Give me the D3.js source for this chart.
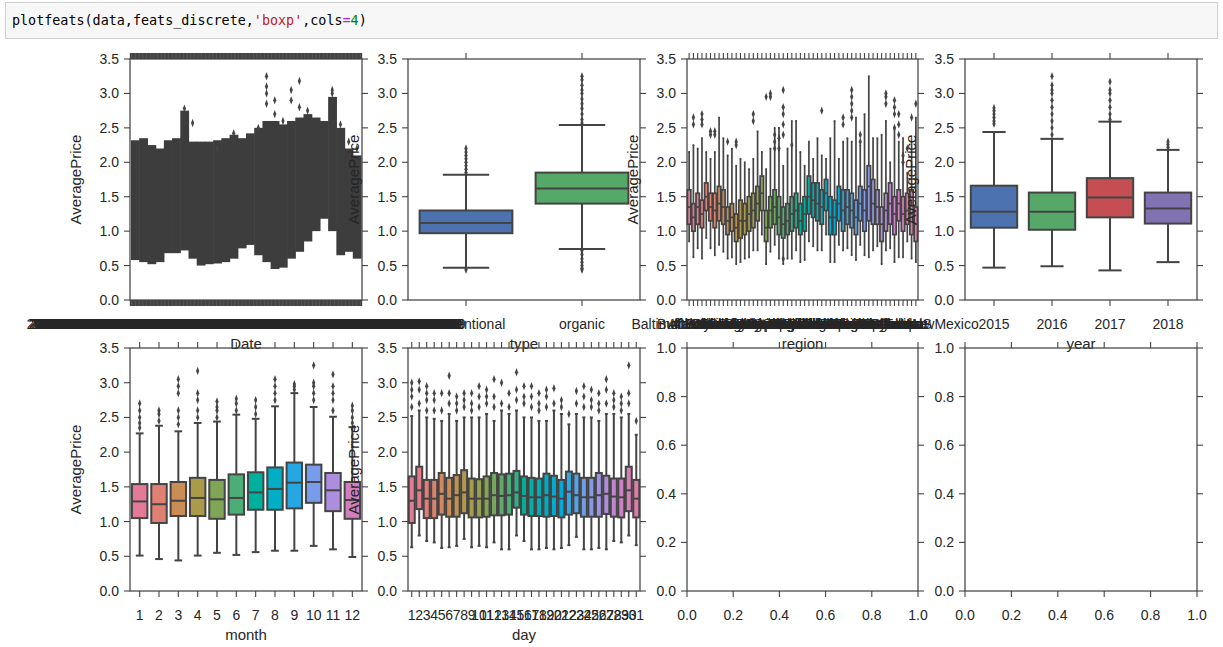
<!DOCTYPE html>
<html><head><meta charset="utf-8">
<script src="https://cdn.jsdelivr.net/npm/d3@7"></script>
<style>
body{margin:0;background:#fff;font-family:"Liberation Sans",Arial,sans-serif;}
</style></head><body>
<svg id="main" width="1223" height="647"></svg>
<script>
// ---- data ----
const typeCats = ['conventional','organic'];
const typeStats = [[0.47,0.97,1.12,1.30,1.82],[0.74,1.40,1.62,1.85,2.54]]; // lo,q1,med,q3,hi
const typeOut = [[1.85,1.9,1.95,2.0,2.05,2.1,2.15,2.2,0.44],[2.57,2.62,2.7,2.78,2.85,2.92,3.0,3.05,3.12,3.2,3.25,0.72,0.66,0.6,0.55,0.5,0.46,0.44]];

const yearCats = ['2015','2016','2017','2018'];
const yearStats = [[0.47,1.05,1.28,1.66,2.44],[0.49,1.02,1.28,1.56,2.34],[0.43,1.20,1.49,1.77,2.59],[0.55,1.11,1.33,1.56,2.18]];
const yearOut = [[2.56,2.6,2.65,2.7,2.75,2.79],[2.4,2.5,2.6,2.7,2.8,2.9,3.0,3.05,3.12,3.25],[2.62,2.7,2.8,2.9,3.0,3.05,3.17],[2.22,2.26,2.3]];

const monthCats = ['1','2','3','4','5','6','7','8','9','10','11','12'];
const monthStats = [[0.51,1.05,1.29,1.54,2.27],[0.46,0.98,1.25,1.54,2.38],[0.44,1.08,1.30,1.57,2.30],[0.51,1.08,1.34,1.63,2.42],
  [0.55,1.04,1.32,1.60,2.44],[0.52,1.10,1.34,1.68,2.54],[0.56,1.17,1.42,1.71,2.48],[0.58,1.17,1.47,1.78,2.66],
  [0.58,1.19,1.56,1.85,2.85],[0.65,1.27,1.57,1.82,2.65],[0.60,1.15,1.45,1.70,2.51],[0.49,1.04,1.31,1.57,2.36]];
const monthOut = [[2.35,2.42,2.5,2.6,2.7],[2.45,2.55,2.6],[2.4,2.5,2.6,2.85,2.95,3.05],[2.5,2.6,2.75,2.85,3.17],[2.5,2.6,2.65,2.73],
  [2.6,2.7,2.77],[2.55,2.65,2.75],[2.75,2.85,2.95,3.05],[2.9,2.95,2.98],[2.75,2.85,2.95,3.0,3.25],[2.6,2.75,2.85,2.95,3.12],[2.42,2.5,2.6,2.67]];

const dayCats = d3.range(1,32).map(String);
const dayQ1 = [0.98,1.18,1.05,1.05,1.1,1.07,1.07,1.12,1.06,1.06,1.07,1.09,1.09,1.1,1.2,1.1,1.08,1.08,1.07,1.08,1.06,1.1,1.12,1.07,1.07,1.07,1.11,1.07,1.06,1.15,1.06];
const dayMed = [1.3,1.45,1.33,1.33,1.4,1.33,1.38,1.42,1.33,1.33,1.33,1.38,1.37,1.38,1.42,1.37,1.35,1.35,1.38,1.36,1.33,1.43,1.38,1.35,1.35,1.38,1.4,1.36,1.35,1.45,1.33];
const dayQ3 = [1.65,1.79,1.6,1.6,1.7,1.63,1.67,1.74,1.62,1.61,1.65,1.7,1.68,1.69,1.73,1.65,1.63,1.62,1.69,1.66,1.6,1.72,1.69,1.63,1.63,1.7,1.66,1.62,1.62,1.79,1.6];
const dayHi = [2.52,2.6,2.5,2.48,2.45,2.55,2.45,2.5,2.5,2.5,2.55,2.45,2.6,2.55,2.6,2.5,2.5,2.45,2.45,2.6,2.55,2.4,2.55,2.5,2.5,2.45,2.55,2.55,2.5,2.55,2.25];
const dayLo = [0.63,0.8,0.72,0.7,0.62,0.63,0.65,0.75,0.63,0.65,0.63,0.7,0.6,0.6,0.8,0.72,0.6,0.6,0.62,0.6,0.62,0.66,0.78,0.6,0.6,0.62,0.6,0.72,0.7,0.8,0.66];
const dayOut = [[2.65,2.8,2.9,3.0],[2.7,2.9,3.02],[2.6,2.75,2.85,2.95],[2.6,2.75,2.85],[2.6,2.85],[2.7,2.85,3.1],[2.6,2.7,2.8],[2.65,2.75,2.85],
  [2.6,2.7,2.85],[2.65,2.8,2.95],[2.7,2.8,2.9],[2.65,2.8,3.05],[2.7,3.0],[2.65,2.85],[2.75,2.9,3.15],[2.7,2.8,2.95],[2.65,2.8,2.95],
  [2.6,2.7,2.85],[2.65,2.8,2.9],[2.7,2.92],[2.65,2.75],[2.55],[2.7,2.88],[2.65,2.8,2.95],[2.65,2.75,2.9],[2.6,2.7,2.85],[2.7,2.9,3.05],
  [2.65,2.75,2.85],[2.6,2.7,2.8],[2.7,2.85,3.25],[2.45]];

const regionCats = ['Albany','Atlanta','BaltimoreWashington','Boise','Boston','BuffaloRochester','California','Charlotte','Chicago',
  'CincinnatiDayton','Columbus','DallasFtWorth','Denver','Detroit','GrandRapids','GreatLakes','HarrisburgScranton','HartfordSpringfield',
  'Houston','Indianapolis','Jacksonville','LasVegas','LosAngeles','Louisville','MiamiFtLauderdale','Midsouth','Nashville','NewOrleansMobile',
  'NewYork','Northeast','NorthernNewEngland','Orlando','Philadelphia','PhoenixTucson','Pittsburgh','Plains','Portland','RaleighGreensboro',
  'RichmondNorfolk','Roanoke','Sacramento','SanDiego','SanFrancisco','Seattle','SouthCarolina','SouthCentral','Southeast','Spokane',
  'StLouis','Syracuse','Tampa','TotalUS','West','WestTexNewMexico'];
const regionLo = [0.85,0.62,0.75,0.6,0.9,0.75,0.65,0.8,0.7,0.6,0.62,0.52,0.55,0.6,0.62,0.72,0.72,0.95,0.52,0.7,0.8,0.6,0.52,0.6,0.6,0.72,0.55,0.58,0.85,0.78,0.72,0.72,0.95,0.55,0.55,0.8,0.72,0.75,0.65,0.58,0.8,0.65,0.62,0.72,0.78,0.52,0.72,0.75,0.55,0.62,0.62,0.85,0.6,0.55];
const regionQ1 = [1.1,1.0,1.1,1.05,1.3,1.15,1.05,1.15,1.1,0.95,1.0,0.85,0.9,0.95,1.0,1.05,1.15,1.3,0.85,1.05,1.1,0.95,0.9,0.95,1.0,1.05,0.95,1.0,1.25,1.2,1.15,1.1,1.3,0.95,0.95,1.15,1.0,1.1,1.05,0.95,1.15,1.0,1.15,1.1,1.1,0.85,1.0,1.1,0.95,1.15,1.0,1.1,0.95,0.85];
const regionMed = [1.35,1.2,1.35,1.25,1.5,1.35,1.3,1.4,1.35,1.15,1.2,1.05,1.15,1.15,1.25,1.3,1.4,1.55,1.05,1.3,1.35,1.2,1.1,1.15,1.25,1.3,1.15,1.25,1.5,1.45,1.4,1.35,1.55,1.2,1.2,1.4,1.3,1.35,1.3,1.2,1.4,1.3,1.65,1.4,1.35,1.1,1.3,1.4,1.25,1.4,1.25,1.3,1.25,1.1];
const regionQ3 = [1.6,1.4,1.55,1.45,1.7,1.55,1.55,1.65,1.6,1.35,1.4,1.25,1.45,1.4,1.5,1.55,1.65,1.8,1.3,1.5,1.6,1.5,1.35,1.4,1.5,1.55,1.4,1.5,1.8,1.7,1.7,1.6,1.75,1.5,1.45,1.65,1.6,1.6,1.55,1.45,1.65,1.6,1.95,1.75,1.6,1.35,1.55,1.7,1.5,1.6,1.5,1.55,1.6,1.35];
const regionHi = [2.15,2.25,2.2,2.35,2.15,2.05,2.15,2.65,2.35,2.1,2.2,1.95,2.05,2.0,1.9,2.05,2.45,2.15,1.9,2.2,2.5,2.5,1.95,2.2,2.6,2.6,2.15,1.95,2.3,2.05,2.35,2.1,2.05,2.35,2.6,2.05,2.3,2.35,2.3,2.65,2.25,2.7,3.25,2.35,2.35,2.4,2.6,2.0,2.5,2.3,2.35,1.85,2.3,2.65];
const regionOut = [[1,2.55],[1,2.65],[3,2.55],[3,2.62],[3,2.7],[5,2.4],[5,2.45],[6,2.4],[6,2.45],[9,2.3],[11,2.3],[11,2.25],[15,2.6],[15,2.7],
  [18,2.95],[19,2.95],[19,3.0],[20,2.2],[20,2.3],[20,2.4],[21,2.2],[21,2.35],[22,2.4],[22,2.55],[22,2.7],[22,3.05],[22,2.8],[22,0.6],
  [24,2.25],[31,2.75],[36,2.55],[36,2.65],[38,2.65],[38,2.75],[38,2.85],[38,2.95],[38,3.05],[40,2.3],[40,2.4],[46,2.85],[46,2.95],
  [46,3.0],[48,2.5],[48,2.7],[48,2.8],[48,2.9],[49,2.4],[49,2.55],[49,2.7],[50,2.0],[50,2.1],[51,2.2],[52,2.65],[53,2.85]];

// Date panel: whisker envelope per ~6-week segment
const dateLo = [0.58,0.55,0.52,0.55,0.68,0.68,0.72,0.6,0.5,0.52,0.53,0.55,0.6,0.75,0.8,0.65,0.55,0.45,0.47,0.6,0.7,0.85,1.0,1.18,1.0,0.65,0.7,0.6];
const dateHi = [2.32,2.35,2.25,2.2,2.32,2.35,2.75,2.3,2.3,2.3,2.32,2.35,2.4,2.35,2.42,2.5,2.6,2.6,2.55,2.6,2.65,2.7,2.65,2.6,2.95,2.5,2.2,2.1];
const dateOut = [[6,2.78],[7,2.57],[10,2.2],[12,2.42],[15,2.5],[16,2.85],[16,3.0],[16,3.1],[16,3.25],[17,2.9],[17,2.7],[18,2.6],[19,3.05],[19,2.9],
  [20,3.18],[20,2.8],[21,2.75],[24,3.05],[24,3.0],[25,2.55],[26,2.3],[27,2.2]];

// ---- drawing ----
const svg = d3.select('#main');
const INK = '#444', FONT = 14;
const cols = [[130,362],[408,640],[687,918],[965,1197]];
const rows = [[59,300],[348,591]];

// code cell
svg.append('rect').attr('x',5.5).attr('y',2.5).attr('width',1212).attr('height',36).attr('fill','#f7f7f7').attr('stroke','#cfcfcf');
const code = svg.append('text').attr('x',12).attr('y',25).attr('font-family','"DejaVu Sans Mono",monospace').attr('font-size',13.4);
[['plotfeats(data,feats_discrete,','#000'],["'boxp'",'#ba2121'],[',cols','#000'],['=','#aa22ff'],['4','#008000'],[')','#000']]
  .forEach(([t,c]) => code.append('tspan').attr('fill',c).text(t));

function huslish(n) {
  return d3.range(n).map(i => d3.hcl(3.6 + i*360/n, 44, 64).formatHex());
}

function frame(c, r, x, y, xTickVals, xFmt, yTicks, yFmt, xlabel, ylabel, xtw) {
  const [x0,x1] = cols[c], [y0,y1] = rows[r];
  const g = svg.append('g');
  const ticks = g.append('g').attr('stroke',INK).attr('stroke-width',1.1);
  xTickVals.forEach(v => {
    const px = x(v);
    ticks.append('line').attr('x1',px).attr('x2',px).attr('y1',y1).attr('y2',y1+6).attr('stroke-width',xtw||1.1);
    ticks.append('line').attr('x1',px).attr('x2',px).attr('y1',y0).attr('y2',y0-6).attr('stroke-width',xtw||1.1);
  });
  yTicks.forEach(v => {
    const py = y(v);
    ticks.append('line').attr('x1',x0).attr('x2',x0-6).attr('y1',py).attr('y2',py);
    ticks.append('line').attr('x1',x1).attr('x2',x1+6).attr('y1',py).attr('y2',py);
  });
  const lab = g.append('g').attr('font-size',FONT).attr('fill','#262626');
  yTicks.forEach(v => lab.append('text').attr('x',x0-11).attr('y',y(v)+5).attr('text-anchor','end').text(yFmt(v)));
  xTickVals.forEach(v => lab.append('text').attr('x',x(v)).attr('y',y1+29).attr('text-anchor','middle').text(xFmt(v)));
  g.append('text').attr('x',(x0+x1)/2).attr('y',y1+49).attr('text-anchor','middle').attr('font-size',15).attr('fill','#262626').text(xlabel);
  if (ylabel) g.append('text').attr('transform',`translate(${x0-49},${(y0+y1)/2}) rotate(-90)`)
    .attr('text-anchor','middle').attr('font-size',15).attr('fill','#262626').text(ylabel);
  g.append('rect').attr('x',x0).attr('y',y0).attr('width',x1-x0).attr('height',y1-y0).attr('fill','none').attr('stroke',INK).attr('stroke-width',1.25);
  return g;
}

function boxPanel(c, r, cats, stats, outs, colors, lw, xlabel) {
  const [x0,x1] = cols[c], [y0,y1] = rows[r];
  const x = d3.scaleBand().domain(cats).range([x0,x1]).paddingInner(0.2).paddingOuter(0.1);
  const xc = v => x(v) + x.bandwidth()/2;
  const y = d3.scaleLinear().domain([0,3.5]).range([y1,y0]);
  const g = svg.append('g');
  const bw = x.bandwidth();
  cats.forEach((cat,i) => {
    const [lo,q1,md,q3,hi] = stats[i], cx = xc(cat);
    g.append('line').attr('x1',cx).attr('x2',cx).attr('y1',y(hi)).attr('y2',y(q3)).attr('stroke',INK).attr('stroke-width',lw);
    g.append('line').attr('x1',cx).attr('x2',cx).attr('y1',y(q1)).attr('y2',y(lo)).attr('stroke',INK).attr('stroke-width',lw);
    g.append('line').attr('x1',cx-bw/4).attr('x2',cx+bw/4).attr('y1',y(hi)).attr('y2',y(hi)).attr('stroke',INK).attr('stroke-width',lw);
    g.append('line').attr('x1',cx-bw/4).attr('x2',cx+bw/4).attr('y1',y(lo)).attr('y2',y(lo)).attr('stroke',INK).attr('stroke-width',lw);
    g.append('rect').attr('x',x(cat)).attr('width',bw).attr('y',y(q3)).attr('height',y(q1)-y(q3))
      .attr('fill',colors[i]).attr('stroke',INK).attr('stroke-width',lw);
    g.append('line').attr('x1',x(cat)).attr('x2',x(cat)+bw).attr('y1',y(md)).attr('y2',y(md)).attr('stroke',INK).attr('stroke-width',lw);
    (outs[i]||[]).forEach(v => g.append('path').attr('d',d3.symbol(d3.symbolDiamond,14)())
      .attr('transform',`translate(${cx},${y(v)}) scale(0.8,1.2)`).attr('fill',INK));
  });
  frame(c, r, xc, y, cats, d => d, d3.range(0,3.51,0.5), d3.format('.1f'), xlabel, 'AveragePrice');
}

// Date panel
(function() {
  const [x0,x1] = cols[0], [y0,y1] = rows[0];
  const weeks = d3.timeWeek.range(new Date(2015,0,4), new Date(2018,2,26));
  const xw = d3.scalePoint().domain(weeks.map((d,i)=>i)).range([x0+0.7,x1-0.7]);
  const seg = d3.scaleBand().domain(d3.range(dateLo.length)).range([x0+1,x1-1]);
  const y = d3.scaleLinear().domain([0,3.5]).range([y1,y0]);
  const g = svg.append('g');
  dateLo.forEach((lo,i) => g.append('rect').attr('x',seg(i)).attr('width',seg.bandwidth()+0.6)
    .attr('y',y(dateHi[i])).attr('height',y(lo)-y(dateHi[i])).attr('fill','#3d3d3d'));
  dateOut.forEach(([i,v]) => g.append('path').attr('d',d3.symbol(d3.symbolDiamond,14)())
    .attr('transform',`translate(${seg(i)+seg.bandwidth()/2},${y(v)}) scale(0.8,1.2)`).attr('fill',INK));
  const fmt = d3.timeFormat('%Y-%m-%dT00:00:00.000000000');
  frame(0, 0, xw, y, weeks.map((d,i)=>i), i => fmt(weeks[i]), d3.range(0,3.51,0.5), d3.format('.1f'), 'Date', 'AveragePrice', 1.8);
})();

const deep = ['#4c72b0','#55a868','#c44e52','#8172b2'];
boxPanel(1, 0, typeCats, typeStats, typeOut, deep, 2, 'type');
boxPanel(2, 0, regionCats, regionCats.map((_,i)=>[regionLo[i],regionQ1[i],regionMed[i],regionQ3[i],regionHi[i]]),
  regionCats.map((_,i)=>regionOut.filter(o=>o[0]===i).map(o=>o[1])), huslish(54), 1.7, 'region');
boxPanel(3, 0, yearCats, yearStats, yearOut, deep, 2, 'year');
boxPanel(0, 1, monthCats, monthStats, monthOut, huslish(12), 2, 'month');
boxPanel(1, 1, dayCats, dayCats.map((_,i)=>[dayLo[i],dayQ1[i],dayMed[i],dayQ3[i],dayHi[i]]), dayOut, huslish(31), 2, 'day');

// empty panels
[2,3].forEach(c => {
  const x = d3.scaleLinear().domain([0,1]).range(cols[c]);
  const y = d3.scaleLinear().domain([0,1]).range([rows[1][1],rows[1][0]]);
  const t = d3.range(0,1.01,0.2);
  frame(c, 1, x, y, t, d3.format('.1f'), t, d3.format('.1f'), '', null);
});
</script>
</body></html>
